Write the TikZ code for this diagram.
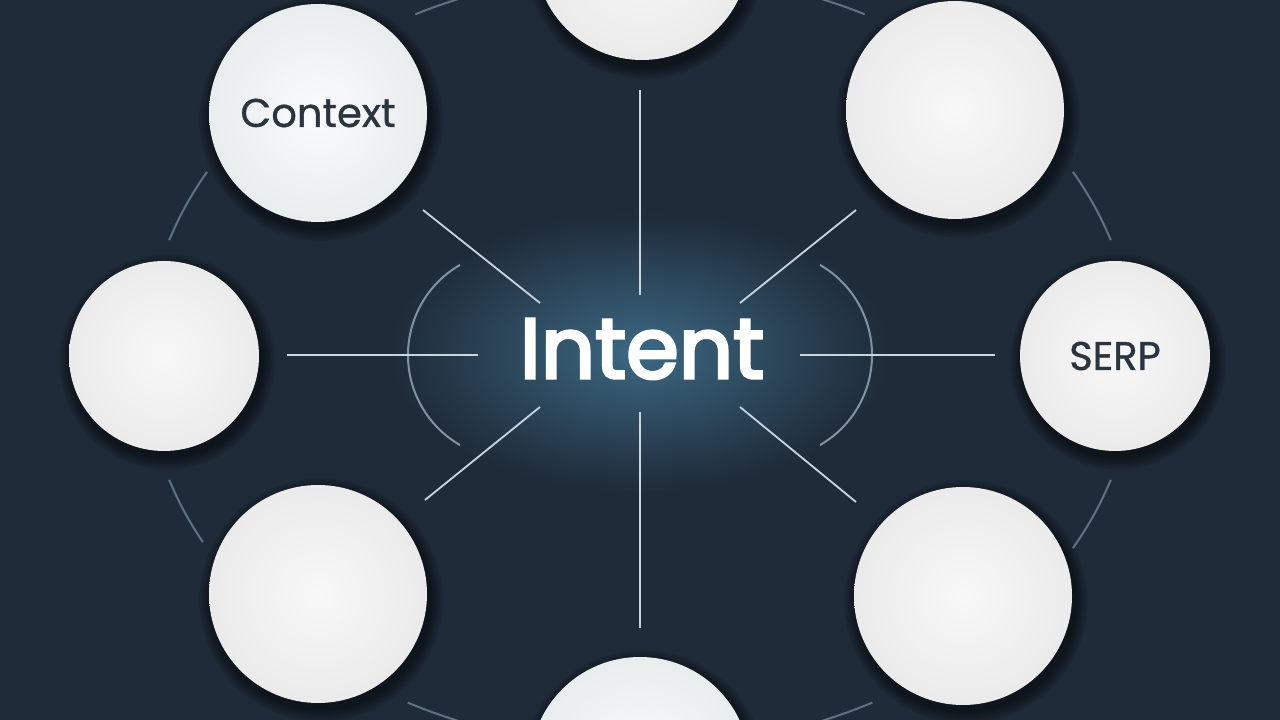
\documentclass[tikz,border=0pt]{standalone}
\usepackage{fontspec}
\setmainfont{Poppins}
\newfontfamily\intentfont{Poppins}[FakeBold=3.5]
\newfontfamily\labelfont{Poppins}[FakeBold=0.9]
\usetikzlibrary{calc}
\definecolor{bg}{HTML}{1F2B38}
\definecolor{glow}{HTML}{3C6884}
\definecolor{spokecol}{HTML}{C9D6E0}
\definecolor{arccol}{HTML}{8194A4}
\definecolor{ringcol}{HTML}{5E7283}
\definecolor{labelcol}{HTML}{2B353F}
\pgfdeclarelayer{background}
\pgfsetlayers{background,main}
\def\balls{{(642,767)/top/107/ball/}, {(955,610)/tr/109/ball/}, {(318,607)/ctx/109/coolball/Context}, {(164,364)/lft/95/ball/}, {(1115,364)/serp/95/ball/SERP}, {(318,126)/bl/109/ball/}, {(963,124)/br/109/ball/}, {(640,-47)/bot/110/coolball/}}
\def\spokes{0/60/0/265, 0/-57/0/-273, -162/0/-353/0, 160/0/355/0, -100/52/-217/145, 100/52/216/145, -100/-52/-215/-145, 100/-52/216/-147}
\def\ringparts{18/29, 63/73, 107/117, 151/162, 198/208, 242/252, 288/298, 331/342}
\tikzstyle{ball}=[circle, inner sep=0pt, inner color=black!3!white, outer color=black!8!white, text=labelcol, font=\labelfont\fontsize{40}{40}\selectfont]
\tikzstyle{coolball}=[ball, inner color=blue!2!white, outer color=cyan!20!black!9!white]
\tikzstyle{spoke}=[draw, spokecol, line width=1.8pt]
\tikzstyle{inner arc}=[draw, arccol, line width=2pt]
\tikzstyle{ring}=[draw, ringcol, line width=2pt]

\begin{document}
\begin{tikzpicture}[x=1pt, y=1pt]
  \clip (0,0) rectangle (1280,720);
  \begin{pgfonlayer}{background}
    \fill[bg] (0,0) rectangle (1280,720);
  \end{pgfonlayer}
  \coordinate (c) at (640,365);
  \coordinate (rc) at (640,360);

  % Soft light behind the centre word
  \shade[inner color=glow, outer color=bg] (640,368) ellipse (250 and 140);

  % First the outer ring pieces and the inner brackets
  \foreach \a/\b in \ringparts
    \path[ring] ($(rc)+({495*cos(\a)},{388*sin(\a)})$) arc[start angle=\a, end angle=\b, x radius=495, y radius=388];
  \path[inner arc] ($(c)+(-128,0)+(120:104)$) arc[start angle=120, end angle=240, radius=104];
  \path[inner arc] ($(c)+(128,0)+(-60:104)$) arc[start angle=-60, end angle=60, radius=104];

  % Spokes round the centre
  \foreach \fx/\fy/\tx/\ty in \spokes
    \path[spoke] ($(c)+(\fx,\fy)$) -- ($(c)+(\tx,\ty)$);

  \node[text=white, font=\intentfont\fontsize{85}{85}\selectfont] (intent) at (642,371) {Intent};

  % Then the balls with their shadows
  \foreach \pos/\name/\rad/\sty/\txt in \balls {
    \node[\sty, minimum size=2*\rad] (\name) at \pos {\txt};
    \begin{pgfonlayer}{background}
      \foreach \i in {1,...,8}
        \fill[black, opacity=0.07] \pos ++(3,-6) circle ({\rad+\i*1.6});
    \end{pgfonlayer}
  }
\end{tikzpicture}
\end{document}
